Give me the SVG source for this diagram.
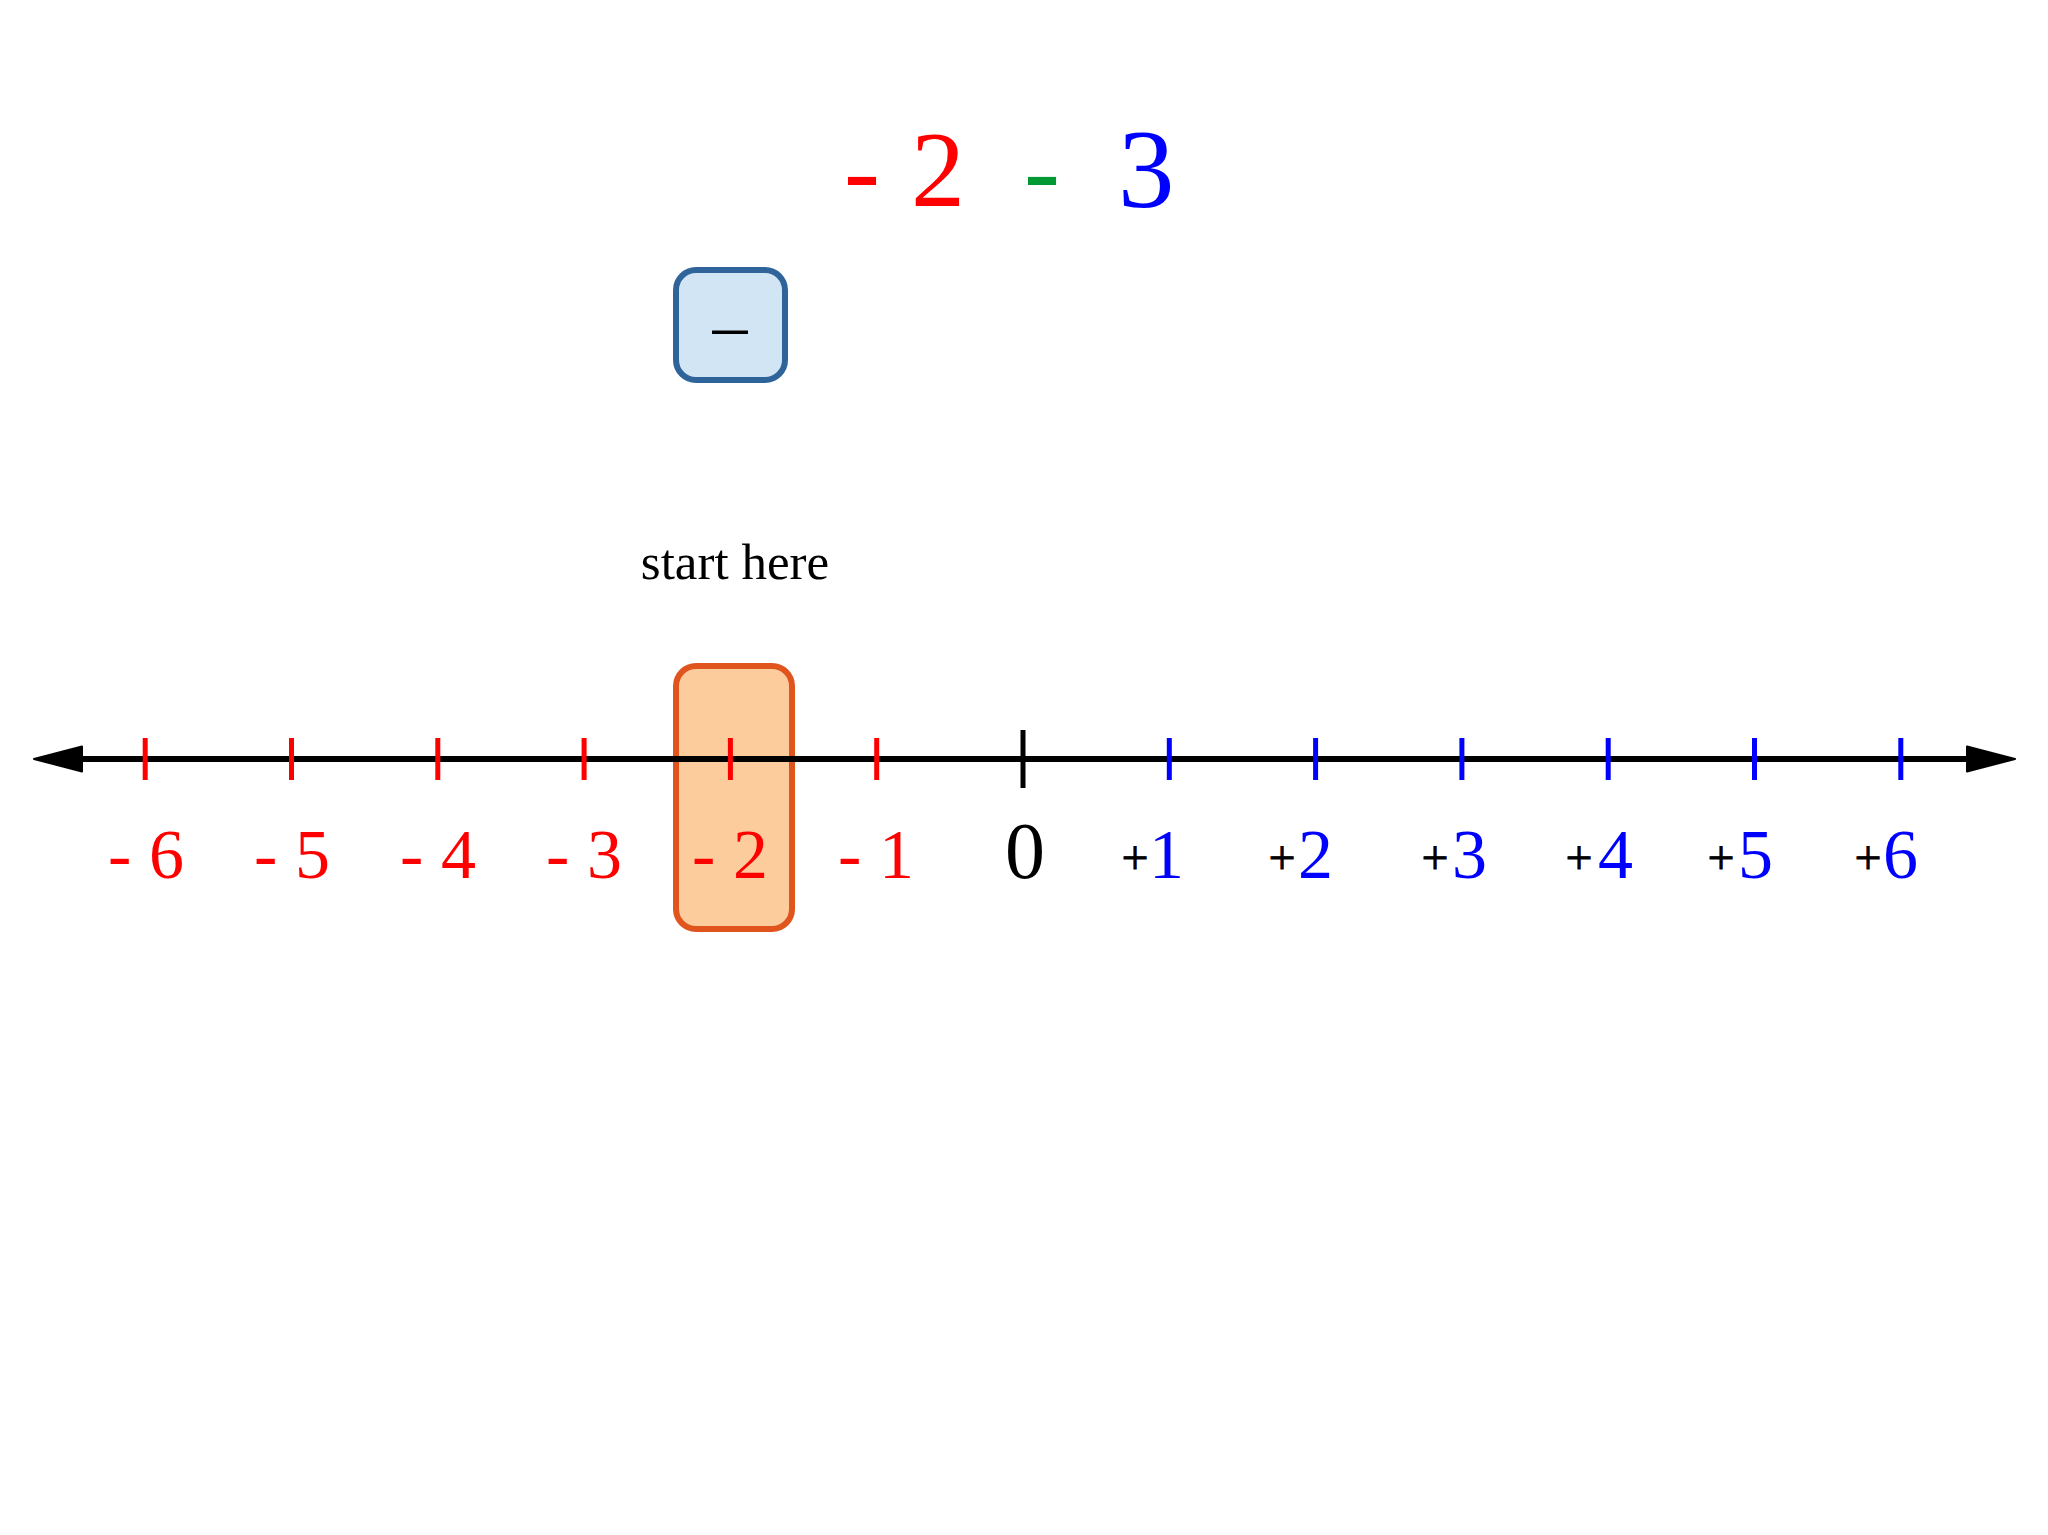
<svg xmlns="http://www.w3.org/2000/svg" width="2048" height="1535" viewBox="0 0 2048 1535">
<style>
.serif{font-family:"Liberation Serif","Times New Roman",serif}
.neg{fill:#FF0000;font-size:70px;text-anchor:middle}
.dig{fill:#0000FF;font-size:70px}
.plus{fill:#000000;stroke:#000000;stroke-width:0.8px;font-size:48px}
.tr{stroke:#FF0000;stroke-width:5}
.tb{stroke:#0000FF;stroke-width:5}
</style>
<defs>
<marker id="arr" markerUnits="userSpaceOnUse" markerWidth="52" markerHeight="30" viewBox="-1 -14 52 28" refX="0" refY="0" orient="auto-start-reverse">
<path d="M0,-12.5 L48,0 L0,12.5 Z" fill="#000" stroke="#000" stroke-width="2" stroke-linejoin="round"/>
</marker>
</defs>
<rect width="2048" height="1535" fill="#FFFFFF"/>

<g id="equation" class="serif" font-size="108">
<text x="844" y="206" fill="#FF0000">-</text>
<text x="911" y="206" fill="#FF0000">2</text>
<text x="1024" y="206" fill="#009933">-</text>
<text x="1118" y="207" fill="#0000FF" font-size="113">3</text>
</g>

<g id="minus-box">
<rect x="676" y="270" width="109" height="110" rx="20" fill="#D2E5F5" stroke="#2E6499" stroke-width="6"/>
<text x="730" y="349" class="serif" font-size="70" text-anchor="middle" fill="#000">–</text>
</g>

<g id="start-label">
<text x="735" y="579" class="serif" font-size="51" text-anchor="middle" fill="#000">start here</text>
</g>

<g id="start-box">
<rect x="676" y="666" width="116" height="263" rx="20" fill="#FCCC9C" stroke="#E0541E" stroke-width="6"/>
</g>

<g id="connectors">
<line x1="82" y1="759" x2="1967" y2="759" stroke="#000" stroke-width="6" marker-start="url(#arr)" marker-end="url(#arr)"/>
</g>

<g id="ticks">
<line class="tr" x1="145.2" y1="738" x2="145.2" y2="780"/>
<line class="tr" x1="291.5" y1="738" x2="291.5" y2="780"/>
<line class="tr" x1="437.8" y1="738" x2="437.8" y2="780"/>
<line class="tr" x1="584.1" y1="738" x2="584.1" y2="780"/>
<line class="tr" x1="730.4" y1="738" x2="730.4" y2="780"/>
<line class="tr" x1="876.7" y1="738" x2="876.7" y2="780"/>
<line x1="1023" y1="730" x2="1023" y2="788" stroke="#000" stroke-width="5"/>
<line class="tb" x1="1169.3" y1="738" x2="1169.3" y2="780"/>
<line class="tb" x1="1315.6" y1="738" x2="1315.6" y2="780"/>
<line class="tb" x1="1461.9" y1="738" x2="1461.9" y2="780"/>
<line class="tb" x1="1608.2" y1="738" x2="1608.2" y2="780"/>
<line class="tb" x1="1754.5" y1="738" x2="1754.5" y2="780"/>
<line class="tb" x1="1900.8" y1="738" x2="1900.8" y2="780"/>
</g>

<g id="labels" class="serif">
<text class="neg" x="146" y="878">- 6</text>
<text class="neg" x="292" y="878">- 5</text>
<text class="neg" x="438" y="878">- 4</text>
<text class="neg" x="584" y="878">- 3</text>
<text class="neg" x="730" y="878">- 2</text>
<text class="neg" x="876" y="878">- 1</text>
<text x="1025" y="878" font-size="80" text-anchor="middle" fill="#000">0</text>
<text class="plus" x="1121.6" y="874">+</text><text class="dig" x="1149" y="878">1</text>
<text class="plus" x="1268.6" y="874">+</text><text class="dig" x="1298" y="878">2</text>
<text class="plus" x="1421.6" y="874">+</text><text class="dig" x="1452" y="878">3</text>
<text class="plus" x="1565.6" y="874">+</text><text class="dig" x="1598" y="878">4</text>
<text class="plus" x="1707.6" y="874">+</text><text class="dig" x="1738" y="878">5</text>
<text class="plus" x="1854.6" y="874">+</text><text class="dig" x="1883" y="878">6</text>
</g>
</svg>
